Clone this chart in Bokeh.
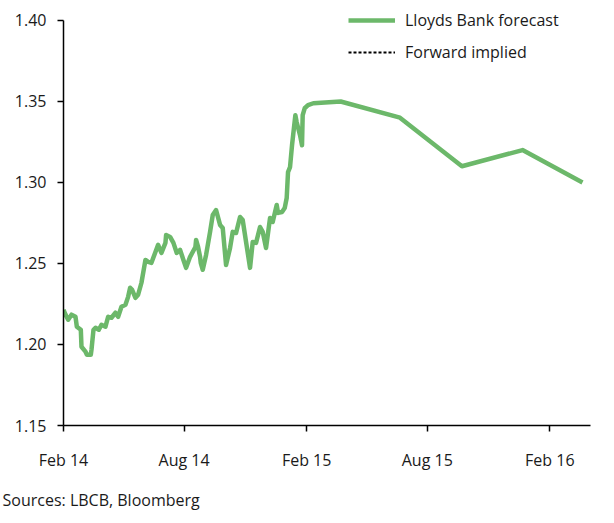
import pandas as pd
from bokeh.plotting import figure
from bokeh.models import (ColumnDataSource, Range1d, FixedTicker, DatetimeTickFormatter,
                          PrintfTickFormatter, Legend, LegendItem, Title)
from bokeh.embed import file_html
from bokeh.resources import INLINE

# ---------------- data ----------------
hist_dates = [
    "2014-02-01", "2014-02-04", "2014-02-08", "2014-02-13", "2014-02-19", "2014-02-21",
    "2014-02-27", "2014-02-28", "2014-03-06", "2014-03-08", "2014-03-14", "2014-03-15",
    "2014-03-18", "2014-03-21", "2014-03-26", "2014-03-30", "2014-04-05", "2014-04-09",
    "2014-04-14", "2014-04-20", "2014-04-24", "2014-04-29", "2014-05-05", "2014-05-09",
    "2014-05-12", "2014-05-15", "2014-05-20", "2014-05-24", "2014-05-29", "2014-06-04",
    "2014-06-08", "2014-06-13", "2014-06-19", "2014-06-23", "2014-06-28", "2014-07-04",
    "2014-07-05", "2014-07-11", "2014-07-16", "2014-07-21", "2014-07-26", "2014-07-31",
    "2014-08-04", "2014-08-10", "2014-08-18", "2014-08-19", "2014-08-22", "2014-08-25",
    "2014-08-26", "2014-08-29", "2014-09-03", "2014-09-09", "2014-09-13", "2014-09-18",
    "2014-09-24", "2014-09-28", "2014-10-03", "2014-10-09", "2014-10-13", "2014-10-18",
    "2014-10-24", "2014-10-28", "2014-11-02", "2014-11-08", "2014-11-12", "2014-11-17",
    "2014-11-23", "2014-11-27", "2014-12-02", "2014-12-08", "2014-12-12", "2014-12-18",
    "2014-12-20", "2014-12-26", "2014-12-30", "2015-01-02", "2015-01-04", "2015-01-07",
    "2015-01-10", "2015-01-15", "2015-01-17", "2015-01-22", "2015-01-25", "2015-01-26",
    "2015-01-29", "2015-02-03", "2015-02-11",
]
hist_values = [
    1.2214, 1.2184, 1.2153, 1.2184, 1.2171, 1.2110,
    1.2091, 1.1986, 1.1956, 1.1937, 1.1937, 1.1968,
    1.2091, 1.2103, 1.2091, 1.2122, 1.2110, 1.2171,
    1.2165, 1.2196, 1.2171, 1.2233, 1.2245, 1.2294,
    1.2350, 1.2337, 1.2288, 1.2307, 1.2381, 1.2522,
    1.2510, 1.2504, 1.2571, 1.2615, 1.2565, 1.2627,
    1.2676, 1.2664, 1.2627, 1.2565, 1.2584, 1.2522,
    1.2473, 1.2541, 1.2602, 1.2645, 1.2602, 1.2541,
    1.2504, 1.2461, 1.2553, 1.2695, 1.2799, 1.2830,
    1.2738, 1.2719, 1.2491, 1.2596, 1.2695, 1.2688,
    1.2787, 1.2768, 1.2633, 1.2473, 1.2633, 1.2627,
    1.2725, 1.2695, 1.2596, 1.2781, 1.2756, 1.2861,
    1.2812, 1.2818, 1.2842, 1.2904, 1.3064, 1.3095,
    1.3230, 1.3415, 1.3372, 1.3292, 1.3230, 1.3415,
    1.3458, 1.3477, 1.3489,
]
forecast_dates = ["2015-03-24", "2015-06-21", "2015-09-22", "2015-12-22", "2016-03-21"]
forecast_values = [1.35, 1.34, 1.31, 1.32, 1.30]

x_tick_dates = ["2014-02-01", "2014-08-01", "2015-02-01", "2015-08-01", "2016-02-01"]
x_tick_labels = ["Feb 14", "Aug 14", "Feb 15", "Aug 15", "Feb 16"]
y_ticks = [1.15, 1.20, 1.25, 1.30, 1.35, 1.40]

series_names = ["Lloyds Bank forecast", "Forward implied"]
source_text = "Sources: LBCB, Bloomberg"

# ---------------- styling ----------------
FONT = "Open Sans"
FS = "16px"
GREEN = "#6cb86a"
TEXT = "#1a1a1a"

all_dates = pd.to_datetime(hist_dates + forecast_dates)
all_vals = hist_values + forecast_values
src = ColumnDataSource(dict(x=all_dates, y=all_vals))

y_top = 1.40 + 20 / 1624.0  # headroom above 1.40 so the legend fits in the frame

p = figure(width=614, height=523, x_axis_type="datetime",
           output_backend="svg", toolbar_location=None,
           min_border_left=63, min_border_right=24, min_border_top=0, min_border_bottom=97)
p.x_range = Range1d(pd.Timestamp("2014-02-01"), pd.Timestamp("2016-04-02"))
p.y_range = Range1d(1.15, y_top)

main = p.line("x", "y", source=src, line_color=GREEN, line_width=4.5, line_join="round")
fwd = p.line(x=pd.to_datetime(["2014-03-01", "2014-04-01"]), y=[float("nan"), float("nan")],
             line_color="black", line_width=2, line_dash="3 2")

p.xgrid.grid_line_color = None
p.ygrid.grid_line_color = None
p.outline_line_color = None
p.background_fill_color = "white"
p.border_fill_color = "white"

tick_ms = [pd.Timestamp(d).value / 1e6 for d in x_tick_dates]
p.xaxis.ticker = FixedTicker(ticks=tick_ms)
p.xaxis.formatter = DatetimeTickFormatter(months="%b %y", days="%b %y", years="%b %y")
p.xaxis.major_label_overrides = {t: l for t, l in zip(tick_ms, x_tick_labels)}
p.yaxis.ticker = FixedTicker(ticks=y_ticks)
p.yaxis.formatter = PrintfTickFormatter(format="%.2f")
p.yaxis.bounds = (1.15, 1.40)

for ax in (p.xaxis, p.yaxis):
    ax.axis_line_color = "black"
    ax.axis_line_width = 1.5
    ax.major_tick_line_color = "black"
    ax.major_tick_line_width = 1.5
    ax.major_tick_out = 6
    ax.major_tick_in = 0
    ax.minor_tick_line_color = None
    ax.major_label_text_font = FONT
    ax.major_label_text_font_size = FS
    ax.major_label_text_color = TEXT
p.xaxis.major_label_standoff = 17
p.yaxis.major_label_standoff = 11

legend = Legend(items=[LegendItem(label=series_names[0], renderers=[main]),
                       LegendItem(label=series_names[1], renderers=[fwd])],
                location=(285, 362), orientation="vertical",
                glyph_width=47, glyph_height=20, label_height=20, spacing=10,
                padding=0, margin=0, label_standoff=10,
                label_text_font=FONT, label_text_font_size=FS,
                label_text_color=TEXT, border_line_color=None,
                background_fill_alpha=0)
p.add_layout(legend)

p.add_layout(Title(text=source_text, align="left", offset=-61, standoff=26,
                   text_font=FONT, text_font_size=FS, text_font_style="normal",
                   text_color=TEXT), "below")

open("out.html", "w").write(file_html(p, INLINE))
